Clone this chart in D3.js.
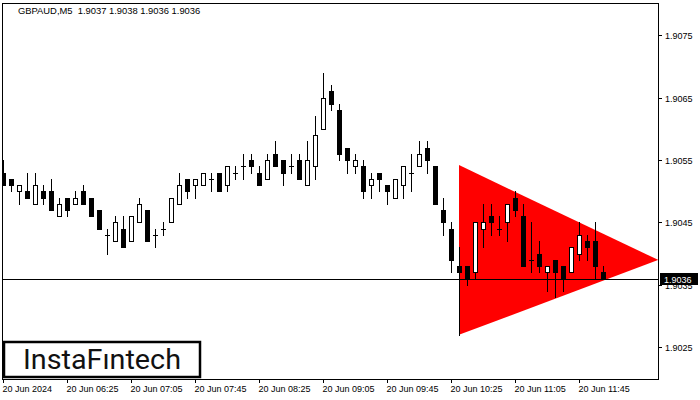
<!DOCTYPE html>
<html><head><meta charset="utf-8">
<script src="https://cdn.jsdelivr.net/npm/d3@7"></script>
<style>html,body{margin:0;padding:0;background:#fff;}svg{display:block;}</style>
</head><body>
<svg id="c" width="700" height="400"></svg>
<script>
const opens  = [1.9053,1.9052,1.9050,1.9050,1.9048,1.9050,1.9050,1.9046,1.9049,1.9048,1.9050,1.9049,1.9047,1.9043,1.9042,1.9044,1.9042,1.9045,1.9047,1.9043,1.9044,1.9045,1.9048,1.9052,1.9051,1.9051,1.9052,1.9053,1.9051,1.9053,1.9054,1.9055,1.9053,1.9052,1.9056,1.9055,1.9054,1.9055,1.9051,1.9054,1.9060,1.9066,1.9063,1.9057,1.9054,1.9054,1.9051,1.9053,1.9051,1.9049,1.9051,1.9053,1.9054,1.9057,1.9054,1.9047,1.9044,1.9038,1.9038,1.9037,1.9044,1.9046,1.9044,1.9045,1.9049,1.9046,1.9039,1.9040,1.9037,1.9039,1.9038,1.9037,1.9040,1.9042,1.9042,1.9037];
const highs  = [1.9055,1.9052,1.9051,1.9053,1.9053,1.9051,1.9052,1.9049,1.9049,1.9050,1.9051,1.9049,1.9047,1.9044,1.9046,1.9046,1.9046,1.9049,1.9047,1.9044,1.9045,1.9049,1.9053,1.9052,1.9052,1.9053,1.9053,1.9053,1.9054,1.9054,1.9056,1.9056,1.9054,1.9056,1.9058,1.9055,1.9056,1.9056,1.9058,1.9062,1.9069,1.9067,1.9064,1.9057,1.9056,1.9055,1.9053,1.9053,1.9051,1.9052,1.9054,1.9056,1.9058,1.9058,1.9054,1.9049,1.9045,1.9041,1.9038,1.9045,1.9048,1.9048,1.9046,1.9048,1.9050,1.9048,1.9045,1.9042,1.9038,1.9039,1.9038,1.9041,1.9045,1.9043,1.9045,1.9038];
const lows   = [1.9051,1.9050,1.9048,1.9049,1.9048,1.9048,1.9047,1.9046,1.9046,1.9048,1.9048,1.9046,1.9044,1.9040,1.9042,1.9041,1.9042,1.9045,1.9042,1.9041,1.9043,1.9045,1.9048,1.9049,1.9049,1.9051,1.9050,1.9050,1.9050,1.9052,1.9052,1.9053,1.9051,1.9052,1.9054,1.9051,1.9053,1.9052,1.9051,1.9052,1.9060,1.9063,1.9055,1.9053,1.9053,1.9049,1.9049,1.9050,1.9048,1.9049,1.9049,1.9050,1.9054,1.9053,1.9048,1.9043,1.9037,1.9027,1.9035,1.9036,1.9041,1.9043,1.9043,1.9042,1.9046,1.9038,1.9037,1.9037,1.9034,1.9033,1.9034,1.9037,1.9039,1.9039,1.9036,1.9036];
const closes = [1.9051,1.9051,1.9051,1.9049,1.9051,1.9049,1.9047,1.9048,1.9047,1.9049,1.9048,1.9046,1.9044,1.9043,1.9045,1.9041,1.9046,1.9048,1.9042,1.9043,1.9044,1.9049,1.9051,1.9050,1.9052,1.9053,1.9052,1.9050,1.9054,1.9053,1.9054,1.9054,1.9051,1.9055,1.9054,1.9053,1.9054,1.9052,1.9055,1.9059,1.9065,1.9064,1.9056,1.9055,1.9055,1.9050,1.9052,1.9052,1.9050,1.9052,1.9054,1.9053,1.9056,1.9055,1.9048,1.9045,1.9039,1.9037,1.9036,1.9045,1.9045,1.9045,1.9044,1.9048,1.9047,1.9038,1.9039,1.9038,1.9038,1.9037,1.9036,1.9041,1.9043,1.9041,1.9038,1.9036];
const timeLabelBars = [0,8,16,24,32,40,48,56,64,72];
const timeLabels = ["20 Jun 2024","20 Jun 06:25","20 Jun 07:05","20 Jun 07:45","20 Jun 08:25","20 Jun 09:05","20 Jun 09:45","20 Jun 10:25","20 Jun 11:05","20 Jun 11:45"];
const priceTicks = [1.9025,1.9035,1.9045,1.9055,1.9065,1.9075];
const priceTickLabels = ["1.9025","1.9035","1.9045","1.9055","1.9065","1.9075"];
const currentPrice = 1.9036;
const currentPriceLabel = "1.9036";
const triangleBars = [57,81.9,57];
const trianglePrices = [1.90542,1.9039,1.90270];
const title = "GBPAUD,M5  1.9037 1.9038 1.9036 1.9036";
const logoText = "InstaF\u0131ntech";

const svg = d3.select("#c");
const L = 2, R = 658, T = 3, B = 379;
const x = d3.scaleLinear().domain([0, 82]).range([3, 659]);
const y = d3.scaleLinear().domain([1.9025, 1.9075]).range([347.3, 35.3]);
const font = "'Liberation Sans', Arial, sans-serif";

svg.append("defs").append("clipPath").attr("id","clip")
  .append("rect").attr("x", L+1).attr("y", T+1).attr("width", R-L-1).attr("height", B-T-1);

const plot = svg.append("g").attr("clip-path","url(#clip)");

// triangle pattern
plot.append("polygon")
  .attr("points", triangleBars.map((b,i)=> [x(b), y(trianglePrices[i])].join(",")).join(" "))
  .attr("fill", "#ff0000");

// current price line
plot.append("line").attr("x1", L).attr("x2", R)
  .attr("y1", Math.round(y(currentPrice))+0.5).attr("y2", Math.round(y(currentPrice))+0.5)
  .attr("stroke","#000").attr("stroke-width",1);

// candles
const idx = d3.range(opens.length);
const g = plot.selectAll("g.c").data(idx).join("g");
g.append("line")
  .attr("x1", i=>Math.round(x(i))+0.5).attr("x2", i=>Math.round(x(i))+0.5)
  .attr("y1", i=>Math.round(y(highs[i]))).attr("y2", i=>Math.round(y(lows[i]))+1)
  .attr("stroke","#000").attr("stroke-width",1);
g.each(function(i){
  const el = d3.select(this);
  const cx = Math.round(x(i));
  const o = Math.round(y(opens[i])), c = Math.round(y(closes[i]));
  if (o === c) {
    el.append("line").attr("x1", cx-2).attr("x2", cx+3)
      .attr("y1", o+0.5).attr("y2", o+0.5).attr("stroke","#000");
  } else {
    const top = Math.min(o,c), bot = Math.max(o,c);
    el.append("rect").attr("x", cx-1.5).attr("width", 4)
      .attr("y", top+0.5).attr("height", bot-top)
      .attr("fill", closes[i] > opens[i] ? "#fff" : "#000")
      .attr("stroke","#000").attr("stroke-width",1);
  }
});

// frame
svg.append("rect").attr("x", L+0.5).attr("y", T+0.5).attr("width", R-L).attr("height", B-T)
  .attr("fill","none").attr("stroke","#000").attr("stroke-width",1);

// price axis
const pa = svg.append("g");
priceTicks.forEach((p,i)=>{
  const yy = Math.round(y(p))+0.5;
  pa.append("line").attr("x1", R).attr("x2", R+4).attr("y1", yy).attr("y2", yy).attr("stroke","#000");
  pa.append("text").attr("x", 665).attr("y", yy+3.5).attr("font-family", font).attr("font-size", 9)
    .attr("fill","#000").text(priceTickLabels[i]);
});
// current price label
const cy = Math.round(y(currentPrice));
pa.append("rect").attr("x", 660).attr("y", cy-6).attr("width", 38).attr("height", 12).attr("fill","#000");
pa.append("text").attr("x", 664).attr("y", cy+3.5).attr("font-family", font).attr("font-size", 9)
  .attr("fill","#fff").text(currentPriceLabel);

// time axis
const ta = svg.append("g");
timeLabelBars.forEach((b,i)=>{
  const xx = Math.round(x(b))+0.5;
  ta.append("line").attr("x1", xx).attr("x2", xx).attr("y1", B).attr("y2", B+4).attr("stroke","#000");
  ta.append("text").attr("x", xx-1).attr("y", 392).attr("font-family", font).attr("font-size", 9)
    .attr("fill","#000").text(timeLabels[i]);
});

// title
svg.append("text").attr("x", 18).attr("y", 14).attr("font-family", font).attr("font-size", 9.4)
  .attr("fill","#000").attr("xml:space","preserve").style("white-space","pre").text(title);

// logo
svg.append("rect").attr("x", 4).attr("y", 342).attr("width", 196).attr("height", 35)
  .attr("fill","#fff").attr("stroke","#000").attr("stroke-width",2.5);
svg.append("text").attr("x", 23).attr("y", 369).attr("font-family", "Roboto, 'Noto Sans', sans-serif")
  .attr("font-size", 27).attr("font-weight", 400).attr("fill","#111")
  .attr("textLength", 158).attr("lengthAdjust","spacingAndGlyphs").text(logoText);
</script>
</body></html>
